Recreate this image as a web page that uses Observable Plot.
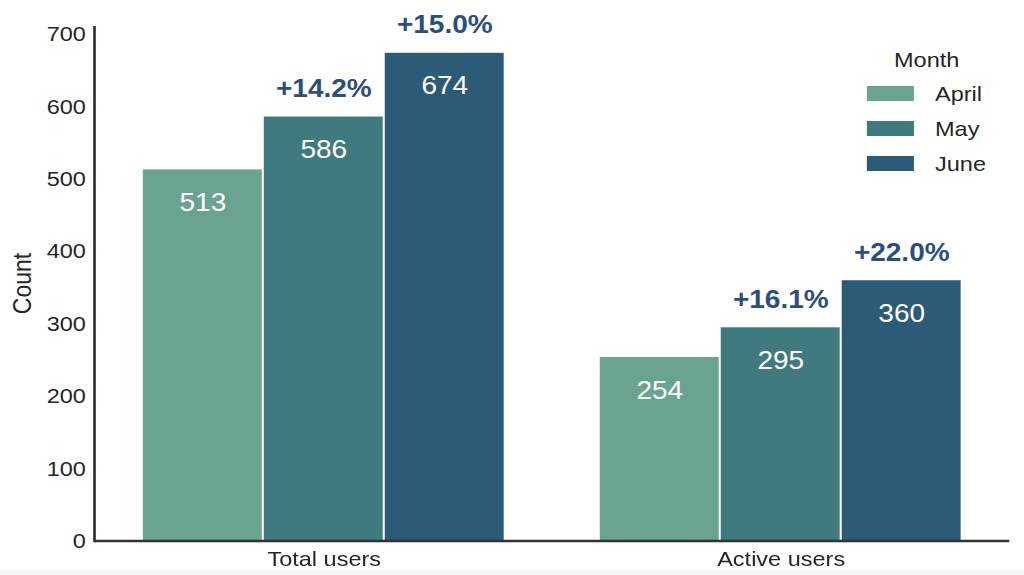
<!DOCTYPE html>
<html>
<head>
<meta charset="utf-8">
<script src="https://cdn.jsdelivr.net/npm/d3@7"></script>
<script src="https://cdn.jsdelivr.net/npm/@observablehq/plot@0.6"></script>
<style>
  html, body { margin: 0; padding: 0; background: #f4f6f6; overflow: hidden; }
  #outer { width: 1024px; height: 570px; background: #ffffff; overflow: hidden; }
  #wrap { position: relative; height: 570px; transform-origin: 0 0; font-family: "Liberation Sans", Arial, sans-serif; }
  #legend { position: absolute; left: 0; top: 0; color: #262626; font-size: 21px; line-height: 24px; }
  #legend .title { position: absolute; white-space: nowrap; }
  #legend .row { position: absolute; display: flex; align-items: center; white-space: nowrap; height: 24px; }
  #legend .sw { height: 15px; }
</style>
</head>
<body>
<div id="outer"><div id="wrap"><div id="chart"></div><div id="legend"></div></div></div>
<script>
const metrics = ["Total users", "Active users"];
const months = ["April", "May", "June"];
const totalUsers = [513, 586, 674];
const activeUsers = [254, 295, 360];
const colors = ["#6aa38f", "#3f7a7e", "#2c5b78"];
const yTicks = [0, 100, 200, 300, 400, 500, 600, 700];

const series = [totalUsers, activeUsers];
const data = [];
metrics.forEach((m, i) => {
  months.forEach((mo, j) => {
    const v = series[i][j];
    const prev = j > 0 ? series[i][j - 1] : null;
    data.push({
      metric: m, month: mo, value: v,
      pct: prev == null ? null : "+" + ((v - prev) / prev * 100).toFixed(1) + "%"
    });
  });
});

// the reference is horizontally stretched; draw narrower and stretch
const S = 1.12;
const W = 1024 / S, H = 570;
const mL = 94.5 / S, mR = 14.7 / S, mT = 26, mB = 29;
const font = '"Liberation Sans", Arial, sans-serif';
document.getElementById("wrap").style.width = W + "px";
document.getElementById("wrap").style.transform = `scaleX(${S})`;
const padOuter = 0.1;
const facetOffset = padOuter * (W - mL - mR) / 2; // first facet starts this far right of the frame

const plot = Plot.plot({
  width: W, height: H,
  marginLeft: mL, marginRight: mR, marginTop: mT, marginBottom: mB,
  style: { fontFamily: font, color: "#262626", background: "white", overflow: "visible" },
  fx: { domain: metrics, paddingInner: 0.2, paddingOuter: padOuter, label: null },
  x: { domain: months, padding: 0, axis: null },
  y: { domain: [0, 711], ticks: yTicks, label: "Count", axis: null },
  color: { domain: months, range: colors },
  marks: [
    Plot.axisY({ ticks: yTicks, tickSize: 0, tickPadding: 9, fontSize: 21, label: null, dx: -facetOffset }),
    Plot.axisFx({ anchor: "bottom", tickSize: 0, tickPadding: 10, fontSize: 21, label: null }),
    Plot.barY(data, { fx: "metric", x: "month", y: "value", fill: "month", insetLeft: 0.9, insetRight: 0.9 }),
    Plot.text(data, { fx: "metric", x: "month", y: "value", text: d => String(d.value),
      dy: 33, fill: "white", fontSize: 25 }),
    Plot.text(data.filter(d => d.pct), { fx: "metric", x: "month", y: "value", text: "pct",
      dy: -28, fill: "#2b4e7e", fontSize: 25, fontWeight: "bold" })
  ]
});

document.getElementById("chart").appendChild(plot);

// axis spines and y label drawn with the plot's own y scale
const y = plot.scale("y");
const y0 = y.apply(0), yTop = y.apply(711);
const svg = d3.select(plot);
svg.append("line").attr("x1", mL).attr("x2", mL).attr("y1", yTop).attr("y2", y0 + 1.25)
  .attr("stroke", "#333").attr("stroke-width", 2.4);
svg.append("line").attr("x1", mL).attr("x2", W - mR).attr("y1", y0).attr("y2", y0)
  .attr("stroke", "#333").attr("stroke-width", 2.5);
svg.append("text").text("Count")
  .attr("transform", `translate(${22 / S},${(y0 + yTop) / 2}) rotate(-90)`)
  .attr("text-anchor", "middle").attr("dominant-baseline", "central")
  .attr("font-size", 23).attr("fill", "#262626").attr("font-family", font);

// legend (positions in unstretched coordinates)
const lg = document.getElementById("legend");
const t = document.createElement("div");
t.className = "title"; t.textContent = "Month";
t.style.left = (894 / S) + "px"; t.style.top = "47.5px";
lg.appendChild(t);
months.forEach((m, i) => {
  const r = document.createElement("div");
  r.className = "row"; r.style.top = (81.5 + i * 35) + "px"; r.style.left = (867 / S) + "px";
  const s = document.createElement("div"); s.className = "sw"; s.style.background = colors[i];
  s.style.width = (47 / S) + "px"; s.style.marginRight = ((935 - 914) / S) + "px";
  const l = document.createElement("span"); l.textContent = m;
  r.appendChild(s); r.appendChild(l); lg.appendChild(r);
});
</script>
</body>
</html>
